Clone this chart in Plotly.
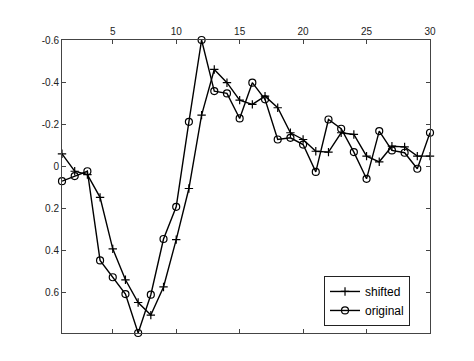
import plotly.graph_objects as go

x = list(range(1, 31))
original = [0.071, 0.047, 0.024, 0.448, 0.528, 0.608, 0.793, 0.611, 0.346, 0.193,
            -0.211, -0.600, -0.357, -0.346, -0.227, -0.397, -0.318, -0.127, -0.135, -0.103,
            0.027, -0.222, -0.178, -0.067, 0.060, -0.167, -0.075, -0.064, 0.012, -0.159]
shifted = [-0.059, 0.024, 0.040, 0.148, 0.393, 0.540, 0.648, 0.708, 0.574, 0.349,
           0.106, -0.243, -0.460, -0.397, -0.314, -0.294, -0.333, -0.278, -0.159, -0.127,
           -0.071, -0.067, -0.159, -0.151, -0.048, -0.021, -0.095, -0.092, -0.048, -0.048]
xticks = [5, 10, 15, 20, 25, 30]
yticks = [-0.6, -0.4, -0.2, 0, 0.2, 0.4, 0.6]

fig = go.Figure()
fig.add_trace(go.Scatter(x=x, y=shifted, name="shifted", mode="lines+markers",
                         line=dict(color="black", width=1.4),
                         marker=dict(symbol="cross-thin-open", size=6, color="black",
                                     line=dict(color="black", width=1.2)),
                         cliponaxis=False))
fig.add_trace(go.Scatter(x=x, y=original, name="original", mode="lines+markers",
                         line=dict(color="black", width=1.4),
                         marker=dict(symbol="circle-open", size=7, color="black",
                                     line=dict(color="black", width=1.2)),
                         cliponaxis=False))

axis_common = dict(showgrid=False, zeroline=False, showline=True, linecolor="#444",
                   linewidth=1, mirror="ticks", ticks="inside", ticklen=4,
                   tickcolor="#444", tickfont=dict(family="Liberation Sans", size=10, color="#222"))
fig.update_layout(
    width=474, height=361,
    margin=dict(l=62, r=44, t=40, b=28),
    plot_bgcolor="white", paper_bgcolor="white",
    xaxis=dict(range=[1, 30], tickvals=xticks, side="top", **axis_common),
    yaxis=dict(range=[0.793, -0.6], tickvals=yticks, ticktext=["-0.6", "-0.4", "-0.2", "0", "0.2", "0.4", "0.6"],
               **axis_common),
    legend=dict(x=0.712, y=0.024, xanchor="left", yanchor="bottom",
                bordercolor="#222", borderwidth=1, bgcolor="white",
                font=dict(family="Liberation Sans", size=12, color="black"),
                tracegroupgap=0, itemwidth=30),
    showlegend=True,
)
fig.write_html("out.html")
